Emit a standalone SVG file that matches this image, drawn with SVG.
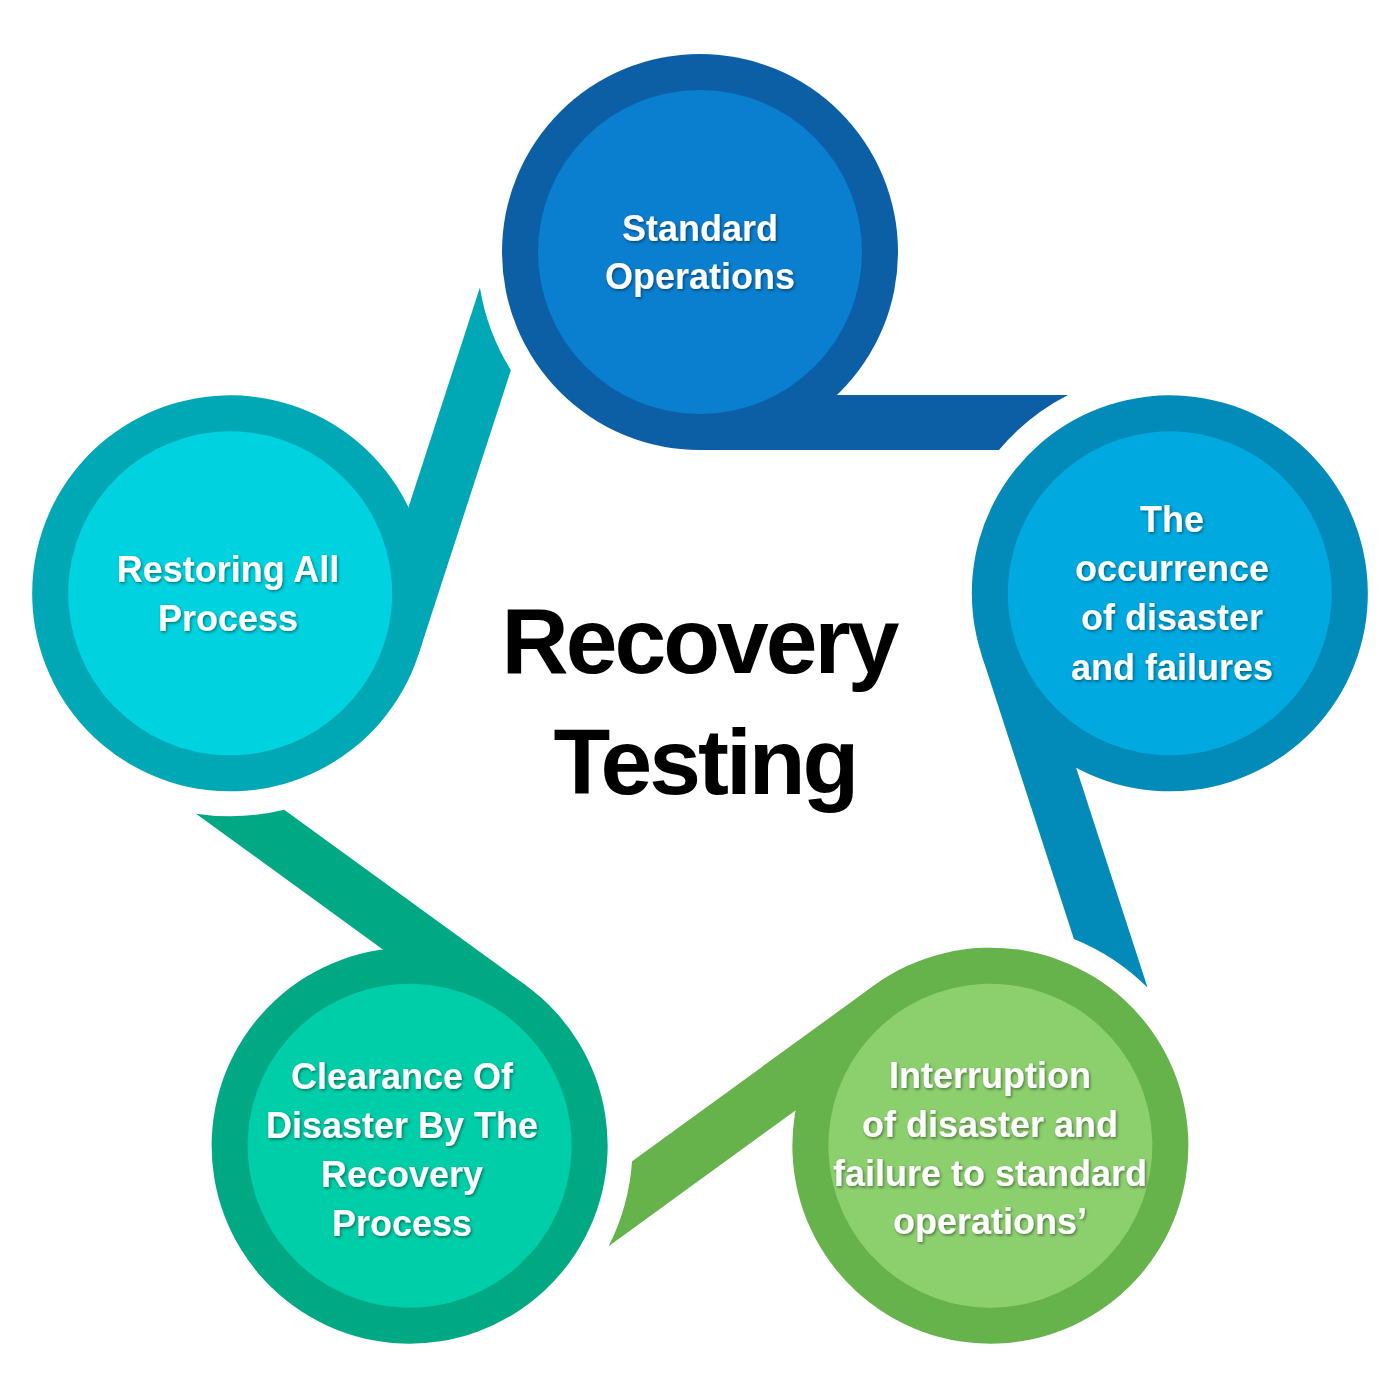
<svg xmlns="http://www.w3.org/2000/svg" width="1400" height="1400" viewBox="0 0 1400 1400">
  <defs>
    <filter id="ts" x="-10%" y="-30%" width="120%" height="160%">
      <feDropShadow dx="1.2" dy="1.5" stdDeviation="1.5" flood-color="#000" flood-opacity="0.45"/>
    </filter>
    <path id="tail" d="M 700 450 L 999 450 A 223 223 0 0 1 1068 395 L 837 395 L 700 395 Z"/>
    <circle id="outer" cx="700" cy="252" r="198"/>
    <circle id="inner" cx="700" cy="252" r="162"/>
  </defs>
  <style>
    .lbl { font-family: "Liberation Sans", Arial, sans-serif; font-weight: bold; font-size: 36px; fill: #ffffff; text-anchor: middle; filter: url(#ts); }
    .title { font-family: "Liberation Sans", Arial, sans-serif; font-weight: bold; font-size: 93px; fill: #000000; text-anchor: middle; letter-spacing: -3px; }
  </style>
  <rect width="1400" height="1400" fill="#ffffff"/>

  <g id="connectors">
    <use href="#tail" fill="#0c5fa5"/>
    <use href="#tail" fill="#028ab8" transform="rotate(72 700 746)"/>
    <use href="#tail" fill="#66b24b" transform="rotate(144 700 746)"/>
    <use href="#tail" fill="#00a984" transform="rotate(216 700 746)"/>
    <use href="#tail" fill="#00a7b4" transform="rotate(288 700 746)"/>
  </g>

  <g id="node-standard">
    <use href="#outer" fill="#0c5fa5"/>
    <use href="#inner" fill="#0a7ecf"/>
    <text class="lbl" x="700" y="241">Standard</text>
    <text class="lbl" x="700" y="289">Operations</text>
  </g>

  <g id="node-occurrence">
    <use href="#outer" fill="#028ab8" transform="rotate(72 700 746)"/>
    <use href="#inner" fill="#00a9df" transform="rotate(72 700 746)"/>
    <text class="lbl" x="1172" y="532">The</text>
    <text class="lbl" x="1172" y="581">occurrence</text>
    <text class="lbl" x="1172" y="630">of disaster</text>
    <text class="lbl" x="1172" y="680">and failures</text>
  </g>

  <g id="node-interruption">
    <use href="#outer" fill="#66b24b" transform="rotate(144 700 746)"/>
    <use href="#inner" fill="#8cd06e" transform="rotate(144 700 746)"/>
    <text class="lbl" x="990" y="1088">Interruption</text>
    <text class="lbl" x="990" y="1137">of disaster and</text>
    <text class="lbl" x="990" y="1186">failure to standard</text>
    <text class="lbl" x="990" y="1234">operations’</text>
  </g>

  <g id="node-clearance">
    <use href="#outer" fill="#00a984" transform="rotate(216 700 746)"/>
    <use href="#inner" fill="#00cea8" transform="rotate(216 700 746)"/>
    <text class="lbl" x="402" y="1089">Clearance Of</text>
    <text class="lbl" x="402" y="1138">Disaster By The</text>
    <text class="lbl" x="402" y="1187">Recovery</text>
    <text class="lbl" x="402" y="1236">Process</text>
  </g>

  <g id="node-restoring">
    <use href="#outer" fill="#00a7b4" transform="rotate(288 700 746)"/>
    <use href="#inner" fill="#00d3df" transform="rotate(288 700 746)"/>
    <text class="lbl" x="228" y="582">Restoring All</text>
    <text class="lbl" x="228" y="631">Process</text>
  </g>

  <g id="title">
    <text class="title" x="699" y="673">Recovery</text>
    <text class="title" x="705" y="794">Testing</text>
  </g>
</svg>
